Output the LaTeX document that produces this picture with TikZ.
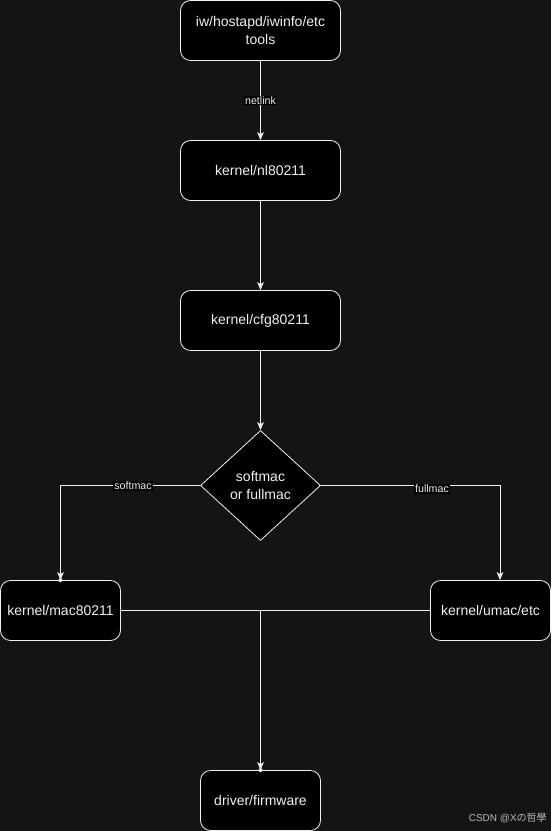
\documentclass[tikz,border=0pt]{standalone}
\usepackage{fontspec}
\setmainfont{Liberation Sans}
\newfontfamily\cjk{Noto Sans CJK SC}
\usetikzlibrary{shapes.geometric,arrows.meta}
\definecolor{bgc}{HTML}{141414}
\definecolor{fg}{HTML}{F0F0F0}
\tikzset{
  x=0.75pt, y=-0.75pt,
  box/.style={draw=fg, fill=black, rounded corners=7.5pt, minimum width=120pt, minimum height=45pt, text=fg, font=\fontsize{10.5}{13}\selectfont, align=center, line width=0.6pt, inner sep=0pt},
  sbox/.style={box, minimum width=90pt},
  dec/.style={draw=fg, fill=black, diamond, aspect=1.09, minimum width=90pt, minimum height=82.5pt, inner sep=0pt, text=fg, font=\fontsize{10.5}{13}\selectfont, align=center, line width=0.6pt},
  conn/.style={draw=fg, line width=0.6pt},
  arr/.style={conn, -{Stealth[length=6pt,width=5pt,inset=1.5pt]}},
  lbl/.style={fill=black, text=fg, font=\fontsize{8}{9.5}\selectfont, inner sep=0.8pt},
  dotend/.style={fill=fg, draw=none, circle, minimum size=3pt, inner sep=0pt}
}
\begin{document}
\begin{tikzpicture}
\fill[bgc] (0,0) rectangle (551,831);
\useasboundingbox (0,0) rectangle (551,831);
\node[box] (tools) at (260.5,30.5) {iw/hostapd/iwinfo/etc\\tools};
\node[box] (nl) at (260.5,170.5) {kernel/nl80211};
\node[box] (cfg) at (260.5,320.5) {kernel/cfg80211};
\node[dec] (dec) at (260.5,485.5) {softmac\\or fullmac};
\node[sbox] (mac) at (60.5,610.5) {kernel/mac80211};
\node[sbox] (umac) at (490.5,610.5) {kernel/umac/etc};
\node[sbox] (drv) at (260.5,800.5) {driver/firmware};
\coordinate (lc) at (60.5,485.5);
\coordinate (rc) at (500,485.5);
\coordinate (junc) at (260.5,610.5);

\draw[arr] (tools) -- (nl);
\node[lbl] (nlk) at (260.5,100.5) {netlink};
\draw[arr] (nl) -- (cfg);
\draw[arr] (cfg) -- (dec);
\draw[arr] (dec.west) -- (lc) -- (mac.north);
\node[lbl] (sml) at (133,486) {softmac};
\draw[arr] (dec.east) -- (rc) -- (rc |- umac.north);
\node[lbl] (fml) at (432,489) {fullmac};
\draw[conn] (mac.east) -- (umac.west);
\draw[arr] (junc) -- (drv.north);
\node[dotend] (d1) at (mac.north) {};
\node[dotend] (d2) at (drv.north) {};
\node[text=fg!75!bgc, font=\fontsize{7.5}{9}\selectfont, anchor=east, inner sep=0pt] (wm) at (547,818) {CSDN @X{\cjk の哲學}};
\end{tikzpicture}
\end{document}
